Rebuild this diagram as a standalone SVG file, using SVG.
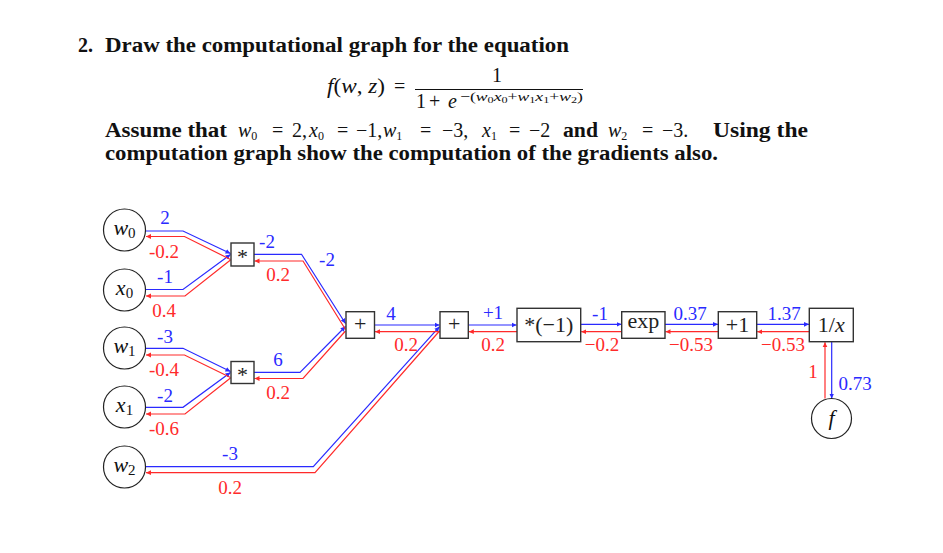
<svg xmlns="http://www.w3.org/2000/svg" width="943" height="553" viewBox="0 0 943 553">
<style>
text{font-family:"Liberation Serif","DejaVu Serif",serif;fill:#111}
.tb{font-weight:bold;font-size:20px}
.m{font-size:20px}
.s{font-size:12px}
.lb{font-size:19px;fill:#2a2aff;text-anchor:middle}
.lr{font-size:19px;fill:#ff2a2a;text-anchor:middle}
.nl{font-size:22px;text-anchor:middle}
.bl{font-size:22px;text-anchor:middle;fill:#222}
.fb{fill:none;stroke:#2a2aff;stroke-width:1.2;marker-end:url(#ab)}
.bk{fill:none;stroke:#ff2a2a;stroke-width:1.2;marker-end:url(#ar)}
.c{fill:#fff;stroke:#222;stroke-width:1.2}
.b{fill:#fff;stroke:#333;stroke-width:1.4}
</style>
<defs>
<marker id="ab" markerWidth="6" markerHeight="6" refX="5" refY="3" orient="auto" markerUnits="userSpaceOnUse"><path d="M0,0.6 L5,3 L0,5.4 z" fill="#2a2aff"/></marker>
<marker id="ar" markerWidth="6" markerHeight="6" refX="5" refY="3" orient="auto" markerUnits="userSpaceOnUse"><path d="M0,0.6 L5,3 L0,5.4 z" fill="#ff2a2a"/></marker>
</defs>
<rect width="943" height="553" fill="#fff"/>

<g id="question">
<text class="tb" x="78" y="52">2.</text>
<text class="tb" x="105" y="52" textLength="464" lengthAdjust="spacingAndGlyphs">Draw the computational graph for the equation</text>
<text class="m" x="327" y="93" textLength="58" lengthAdjust="spacingAndGlyphs"><tspan font-style="italic">f</tspan>(<tspan font-style="italic">w</tspan>, <tspan font-style="italic">z</tspan>)</text>
<text class="m" x="394" y="93">=</text>
<text class="m" x="497" y="82" text-anchor="middle">1</text>
<line x1="415" y1="89.5" x2="583" y2="89.5" stroke="#111" stroke-width="1"/>
<text class="m" x="416" y="108">1</text>
<text class="m" x="429" y="108">+</text>
<text class="m" x="448" y="108" font-style="italic">e</text>
<text x="460" y="101" font-size="13" textLength="123" lengthAdjust="spacingAndGlyphs">−(<tspan font-style="italic">w</tspan><tspan font-size="9" dy="2">0</tspan><tspan font-style="italic" dy="-2">x</tspan><tspan font-size="9" dy="2">0</tspan><tspan dy="-2">+</tspan><tspan font-style="italic">w</tspan><tspan font-size="9" dy="2">1</tspan><tspan font-style="italic" dy="-2">x</tspan><tspan font-size="9" dy="2">1</tspan><tspan dy="-2">+</tspan><tspan font-style="italic">w</tspan><tspan font-size="9" dy="2">2</tspan><tspan dy="-2">)</tspan></text>

<text class="tb" x="105" y="137" textLength="122" lengthAdjust="spacingAndGlyphs">Assume that</text>
<text class="m" y="137"><tspan x="238" font-style="italic">w</tspan><tspan class="s" y="139.5">0</tspan><tspan x="272" y="137">=</tspan><tspan x="292">2,</tspan><tspan x="309" font-style="italic">x</tspan><tspan class="s" y="139.5">0</tspan><tspan x="337" y="137">=</tspan><tspan x="356">−1,</tspan><tspan x="383" font-style="italic">w</tspan><tspan class="s" y="139.5">1</tspan><tspan x="420" y="137">=</tspan><tspan x="442">−3,</tspan><tspan x="482" font-style="italic">x</tspan><tspan class="s" y="139.5">1</tspan><tspan x="509" y="137">=</tspan><tspan x="529">−2</tspan></text>
<text class="tb" x="563" y="137" textLength="35" lengthAdjust="spacingAndGlyphs">and</text>
<text class="m" y="137"><tspan x="608" font-style="italic">w</tspan><tspan class="s" y="139.5">2</tspan><tspan x="642" y="137">=</tspan><tspan x="662">−3.</tspan></text>
<text class="tb" x="713" y="137" textLength="95" lengthAdjust="spacingAndGlyphs">Using the</text>
<text class="tb" x="105" y="160" textLength="613" lengthAdjust="spacingAndGlyphs">computation graph show the computation of the gradients also.</text>
</g>

<g id="connectors">
<path class="fb" d="M145.5,231 H183 L230.5,253.5"/>
<path class="fb" d="M145.5,289.5 H183 L230.5,254.5"/>
<path class="fb" d="M145.5,348.3 H183 L230.5,371.5"/>
<path class="fb" d="M145.5,407.3 H183 L230.5,372.5"/>
<path class="fb" d="M254,254.3 H301.5 L345.5,323.5"/>
<path class="fb" d="M254,372.3 H300 L345.5,326.5"/>
<path class="fb" d="M145.5,466.7 H313.3 L439.5,326.7"/>
<path class="fb" d="M374.5,325 H439.5"/>
<path class="fb" d="M468.3,325 H516.5"/>
<path class="fb" d="M580.7,324.3 H621.5"/>
<path class="fb" d="M665,324.3 H718"/>
<path class="fb" d="M756.7,324.3 H809"/>
<path class="fb" d="M831.7,341.7 V398.5"/>
<path class="bk" d="M230.5,259.5 L184.5,236.5 H146"/>
<path class="bk" d="M230.5,260 L185,296 H146"/>
<path class="bk" d="M230.5,377.5 L184.5,355 H146"/>
<path class="bk" d="M230.5,378 L185,414 H146"/>
<path class="bk" d="M345.5,329.5 L303,261 H254.5"/>
<path class="bk" d="M345.5,331 L303,378.5 H254.5"/>
<path class="bk" d="M439.5,331 L315,472.7 H146"/>
<path class="bk" d="M440,331.7 H375"/>
<path class="bk" d="M517,331.7 H468.8"/>
<path class="bk" d="M621.7,331.7 H581.2"/>
<path class="bk" d="M718.3,331.7 H665.5"/>
<path class="bk" d="M809.3,331.7 H757.2"/>
<path class="bk" d="M825,398.5 V342.2"/>
</g>

<g id="edge-labels">
<text class="lb" x="165" y="224">2</text>
<text class="lr" x="164" y="258">-0.2</text>
<text class="lb" x="165" y="283">-1</text>
<text class="lr" x="164" y="317">0.4</text>
<text class="lb" x="165" y="343">-3</text>
<text class="lr" x="164" y="376">-0.4</text>
<text class="lb" x="165" y="402">-2</text>
<text class="lr" x="164" y="435">-0.6</text>
<text class="lb" x="267" y="248">-2</text>
<text class="lr" x="278" y="281">0.2</text>
<text class="lb" x="327" y="266">-2</text>
<text class="lb" x="278" y="366">6</text>
<text class="lr" x="278" y="399">0.2</text>
<text class="lb" x="230" y="460">-3</text>
<text class="lr" x="230" y="494">0.2</text>
<text class="lb" x="391" y="320">4</text>
<text class="lr" x="406" y="351">0.2</text>
<text class="lb" x="493" y="319">+1</text>
<text class="lr" x="493" y="351">0.2</text>
<text class="lb" x="600" y="320">-1</text>
<text class="lr" x="602" y="351">−0.2</text>
<text class="lb" x="690" y="320">0.37</text>
<text class="lr" x="691" y="351">−0.53</text>
<text class="lb" x="784" y="320">1.37</text>
<text class="lr" x="783" y="351">−0.53</text>
<text class="lr" x="813" y="378">1</text>
<text class="lb" x="855" y="390">0.73</text>
</g>

<g id="w0"><circle class="c" cx="124.5" cy="230" r="21"/><text class="nl" x="124.5" y="235"><tspan font-style="italic">w</tspan><tspan font-size="15" dy="3">0</tspan></text></g>
<g id="x0"><circle class="c" cx="124.5" cy="290" r="21"/><text class="nl" x="124.5" y="295"><tspan font-style="italic">x</tspan><tspan font-size="15" dy="3">0</tspan></text></g>
<g id="w1"><circle class="c" cx="124.5" cy="348" r="21"/><text class="nl" x="124.5" y="353"><tspan font-style="italic">w</tspan><tspan font-size="15" dy="3">1</tspan></text></g>
<g id="x1"><circle class="c" cx="124.5" cy="407" r="21"/><text class="nl" x="124.5" y="412"><tspan font-style="italic">x</tspan><tspan font-size="15" dy="3">1</tspan></text></g>
<g id="w2"><circle class="c" cx="124.5" cy="467" r="21"/><text class="nl" x="124.5" y="472"><tspan font-style="italic">w</tspan><tspan font-size="15" dy="3">2</tspan></text></g>
<g id="f"><circle class="c" cx="831.5" cy="418.5" r="20"/><text class="nl" x="831.5" y="425" font-style="italic">f</text></g>

<g id="mul0"><rect class="b" x="231" y="243" width="23" height="23"/><text class="bl" x="242.5" y="264">*</text></g>
<g id="mul1"><rect class="b" x="231" y="361.5" width="23" height="22"/><text class="bl" x="242.5" y="382">*</text></g>
<g id="add0"><rect class="b" x="346" y="311.7" width="28.5" height="26.6"/><text class="bl" x="360.2" y="331">+</text></g>
<g id="add1"><rect class="b" x="440" y="311.7" width="28.3" height="26.6"/><text class="bl" x="454.1" y="331">+</text></g>
<g id="neg"><rect class="b" x="517" y="308.3" width="63.7" height="33.4"/><text class="bl" x="548.8" y="332">*(−1)</text></g>
<g id="exp"><rect class="b" x="621.7" y="311.7" width="43.3" height="26.6"/><text class="bl" x="643.3" y="328">exp</text></g>
<g id="plus1"><rect class="b" x="718.3" y="311.7" width="38.4" height="26.6"/><text class="bl" x="737.5" y="332">+1</text></g>
<g id="inv"><rect class="b" x="809.3" y="308.3" width="44" height="33.4"/><text class="bl" x="831.3" y="332">1/<tspan font-style="italic">x</tspan></text></g>
</svg>
